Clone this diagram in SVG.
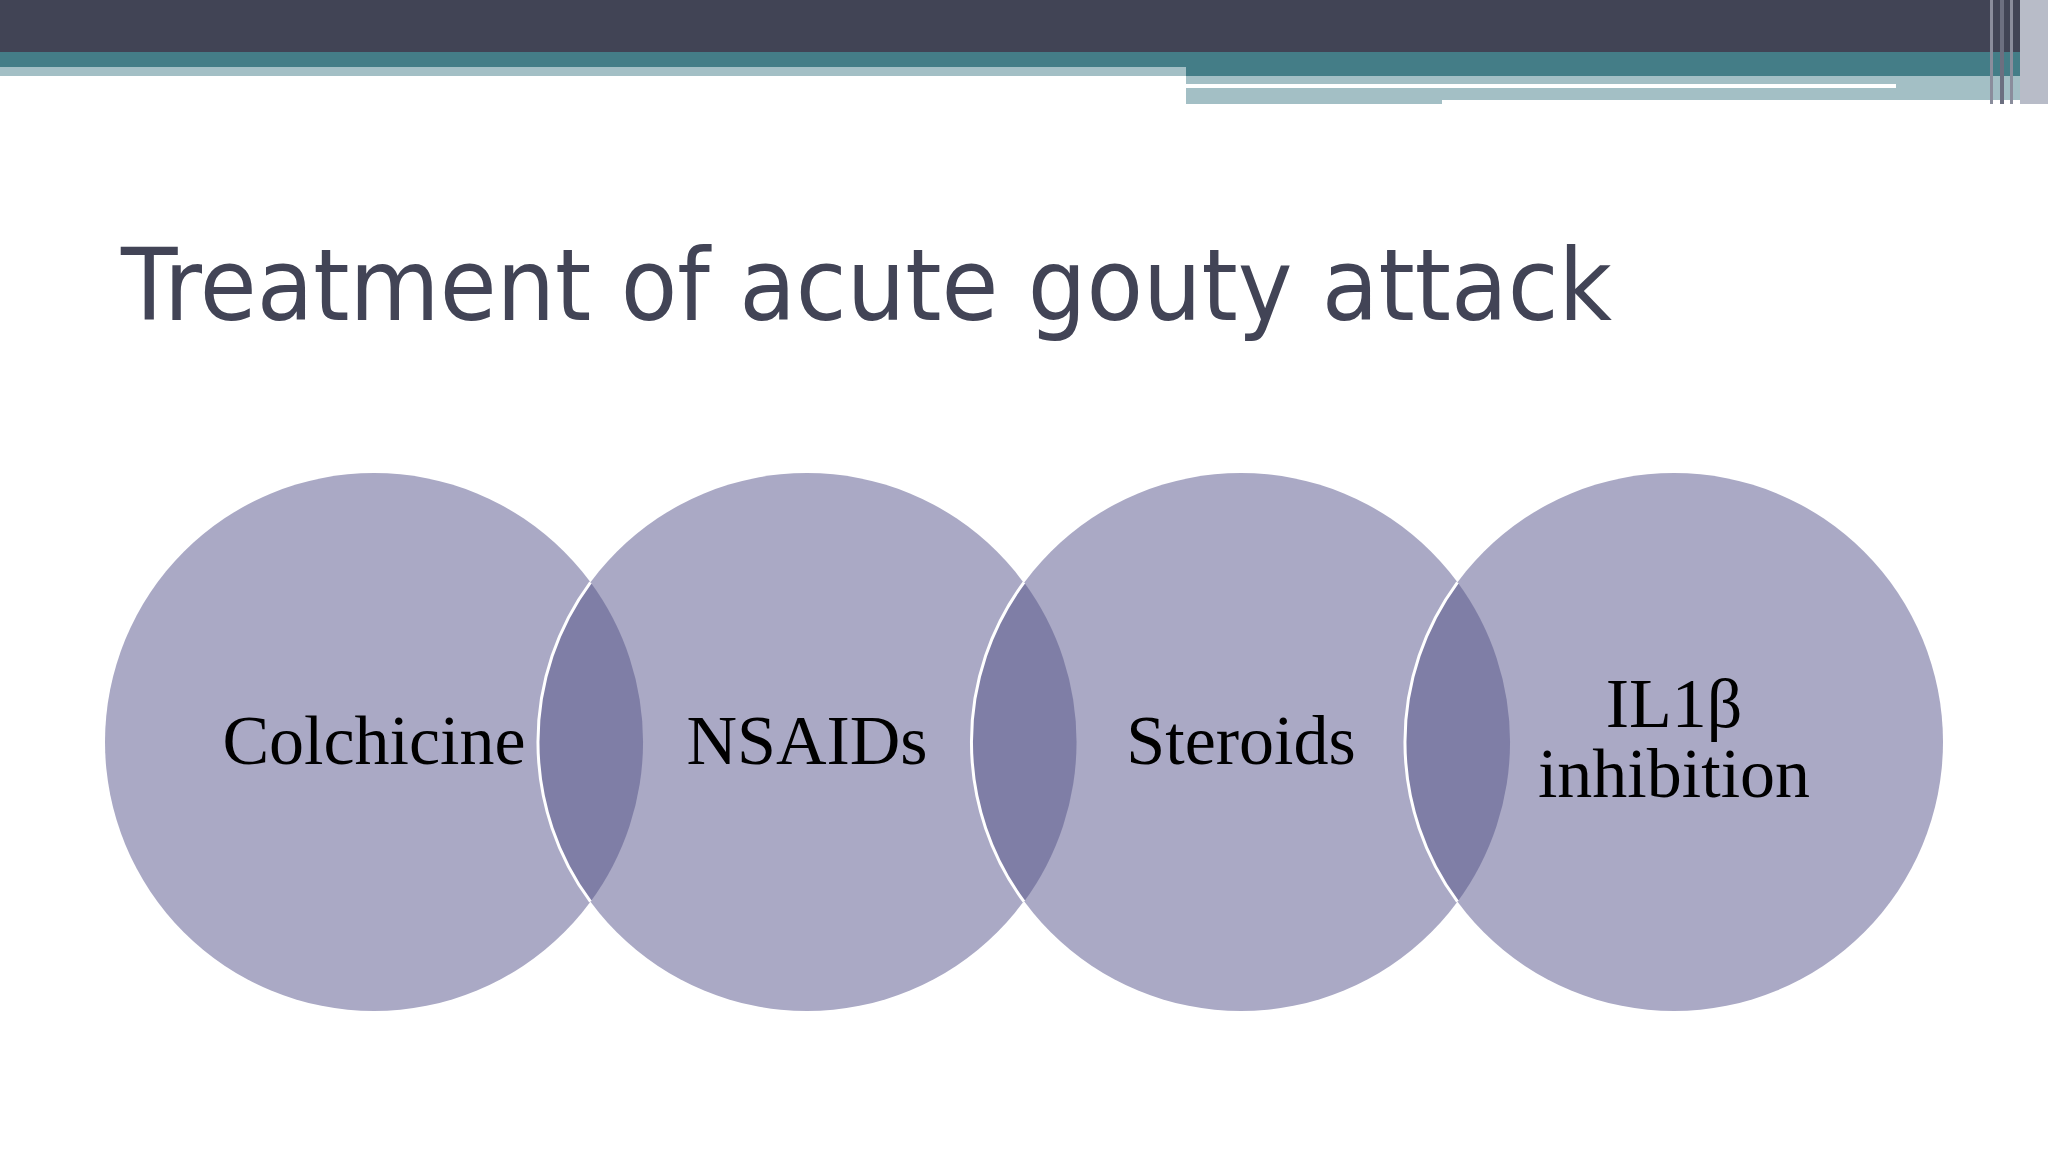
<svg xmlns="http://www.w3.org/2000/svg" width="2048" height="1153" viewBox="0 0 2048 1153">
<style>
.c{fill:#aaa9c5}
.l{fill:#7f7ea6}
.w{fill:none;stroke:#fff;stroke-width:3}
.t{font-family:"Liberation Serif",serif;font-size:70px;fill:#000;text-anchor:middle}
</style>
<rect width="2048" height="1153" fill="#fff"/>
<rect x="0" y="0" width="2048" height="52" fill="#414455"/>
<rect x="0" y="52" width="2048" height="24" fill="#447d87"/>
<rect x="0" y="67" width="1186" height="9" fill="#a3bfc5"/>
<rect x="1186" y="76" width="862" height="28" fill="#a3bfc5"/>
<rect x="1186" y="84" width="710" height="4" fill="#fff"/>
<rect x="1442" y="100" width="606" height="4" fill="#fff"/>
<rect x="1990" y="0" width="3" height="104" fill="#8a8d9c"/>
<rect x="2000" y="0" width="4" height="104" fill="#6c6f80"/>
<rect x="2010" y="0" width="3" height="104" fill="#8a8d9c"/>
<rect x="2020" y="0" width="28" height="104" fill="#b8bcc8"/>
<text x="121" y="320" font-family="DejaVu Sans,sans-serif" font-size="100" fill="#424456" textLength="1491" lengthAdjust="spacingAndGlyphs">Treatment of acute gouty attack</text>
<g id="n1"><circle class="c" cx="374" cy="742" r="269"/></g>
<g id="n2"><circle class="c" cx="807" cy="742" r="269"/></g>
<g id="n3"><circle class="c" cx="1241" cy="742" r="269"/></g>
<g id="n4"><circle class="c" cx="1674" cy="742" r="269"/></g>
<g id="overlaps">
<path class="l" d="M590.5,582.3 A269,269 0 0 0 590.5,901.7 A269,269 0 0 0 590.5,582.3Z"/>
<path class="w" d="M590.5,582.3 A269,269 0 0 0 590.5,901.7"/>
<path class="l" d="M1024,582.3 A269,269 0 0 0 1024,901.7 A269,269 0 0 0 1024,582.3Z"/>
<path class="w" d="M1024,582.3 A269,269 0 0 0 1024,901.7"/>
<path class="l" d="M1457.5,582.3 A269,269 0 0 0 1457.5,901.7 A269,269 0 0 0 1457.5,582.3Z"/>
<path class="w" d="M1457.5,582.3 A269,269 0 0 0 1457.5,901.7"/>
</g>
<g id="labels">
<text class="t" x="374" y="764">Colchicine</text>
<text class="t" x="807" y="764">NSAIDs</text>
<text class="t" x="1241" y="764">Steroids</text>
<text class="t" x="1674" y="727">IL1β</text>
<text class="t" x="1674" y="797">inhibition</text>
</g>
</svg>
